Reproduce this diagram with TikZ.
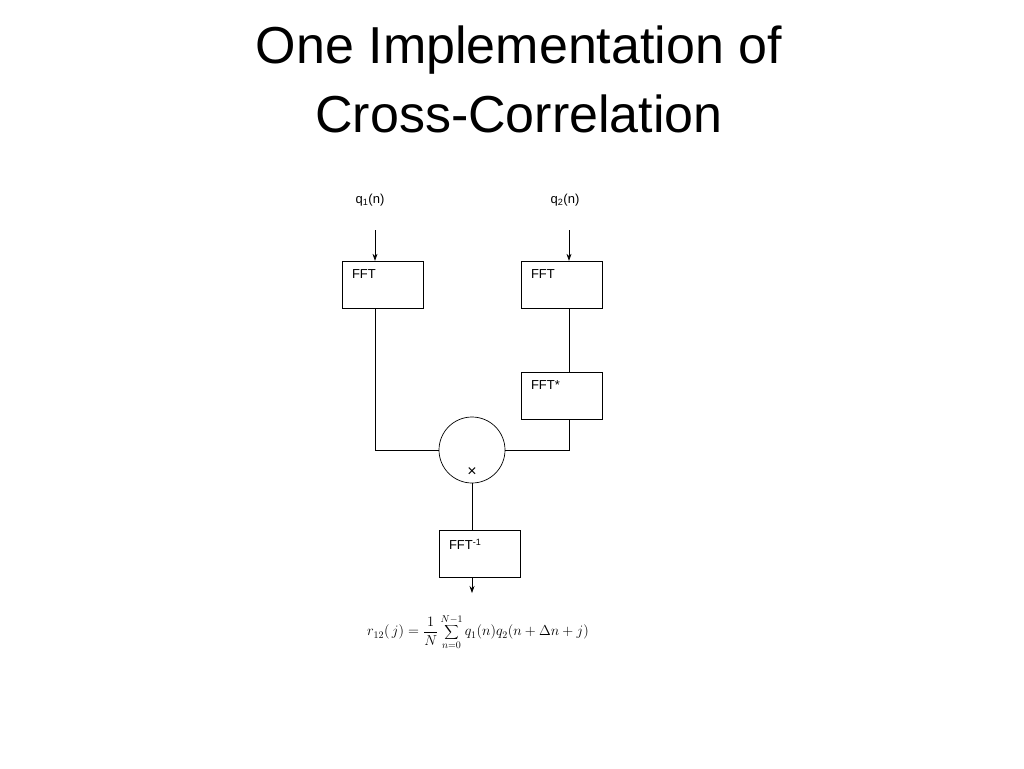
\documentclass[tikz,border=0pt]{standalone}
\usepackage{fontspec}
\setmainfont{Liberation Sans}
\newfontfamily\tms{Liberation Serif}
\usetikzlibrary{arrows.meta}
\begin{document}
\begin{tikzpicture}[x=1pt,y=-1pt,
  blk/.style={draw,minimum width=81pt,minimum height=47pt,inner sep=0pt},
  lbl/.style={font=\fontsize{13}{15}\selectfont,anchor=north west,inner sep=0pt},
  ln/.style={line width=0.7pt},
  arr/.style={ln,-{Stealth[length=7pt,width=5pt]}}]
\useasboundingbox (0,0) rectangle (1024,768);
\node[font=\fontsize{52}{69}\selectfont,align=center] (title) at (519,79) {One Implementation of\\Cross-Correlation};
\node[blk] (f1) at (382.5,284.5) {};
\node[blk] (f2) at (561.5,284.5) {};
\node[blk] (fs) at (561.5,395.5) {};
\node[blk] (fi) at (479.5,553.5) {};
\node[lbl] (t1) at ([shift={(10,9)}]f1.north west) {FFT};
\node[lbl] (t2) at ([shift={(10,9)}]f2.north west) {FFT};
\node[lbl] (t3) at ([shift={(10,9)}]fs.north west) {FFT*};
\node[lbl] (t4) at ([shift={(10,9)}]fi.north west) {FFT\textsuperscript{-1}};
\node[draw,circle,minimum size=66pt,inner sep=0pt,ln] (m) at (472,450) {};
\node[font=\fontsize{16}{18}\selectfont] (x) at (472,472) {×};
\node[font=\fontsize{13}{15}\selectfont] (q1) at (370,200) {q\textsubscript{1}(n)};
\node[font=\fontsize{13}{15}\selectfont] (q2) at (565,200) {q\textsubscript{2}(n)};
\coordinate (a1) at (375,230); \coordinate (a2) at (569,230);
\coordinate (o) at (472,593);
\draw[arr] (a1) -- (a1 |- f1.north);
\draw[arr] (a2) -- (a2 |- f2.north);
\draw[ln] (375,308) |- (m.west);
\draw[ln] (569,308) -- (569,372);
\draw[ln] (569,419) |- (m.east);
\draw[ln] (m.south) -- (472,530);
\draw[arr] (472,577) -- (o);
\node[font=\tms\fontsize{14}{16}\selectfont] (eq) at (478,632) {$\displaystyle r_{12}(\,j)=\frac{1}{N}\sum_{n=0}^{N-1}q_1(n)q_2(n+\Delta n+j)$};
\end{tikzpicture}
\end{document}
